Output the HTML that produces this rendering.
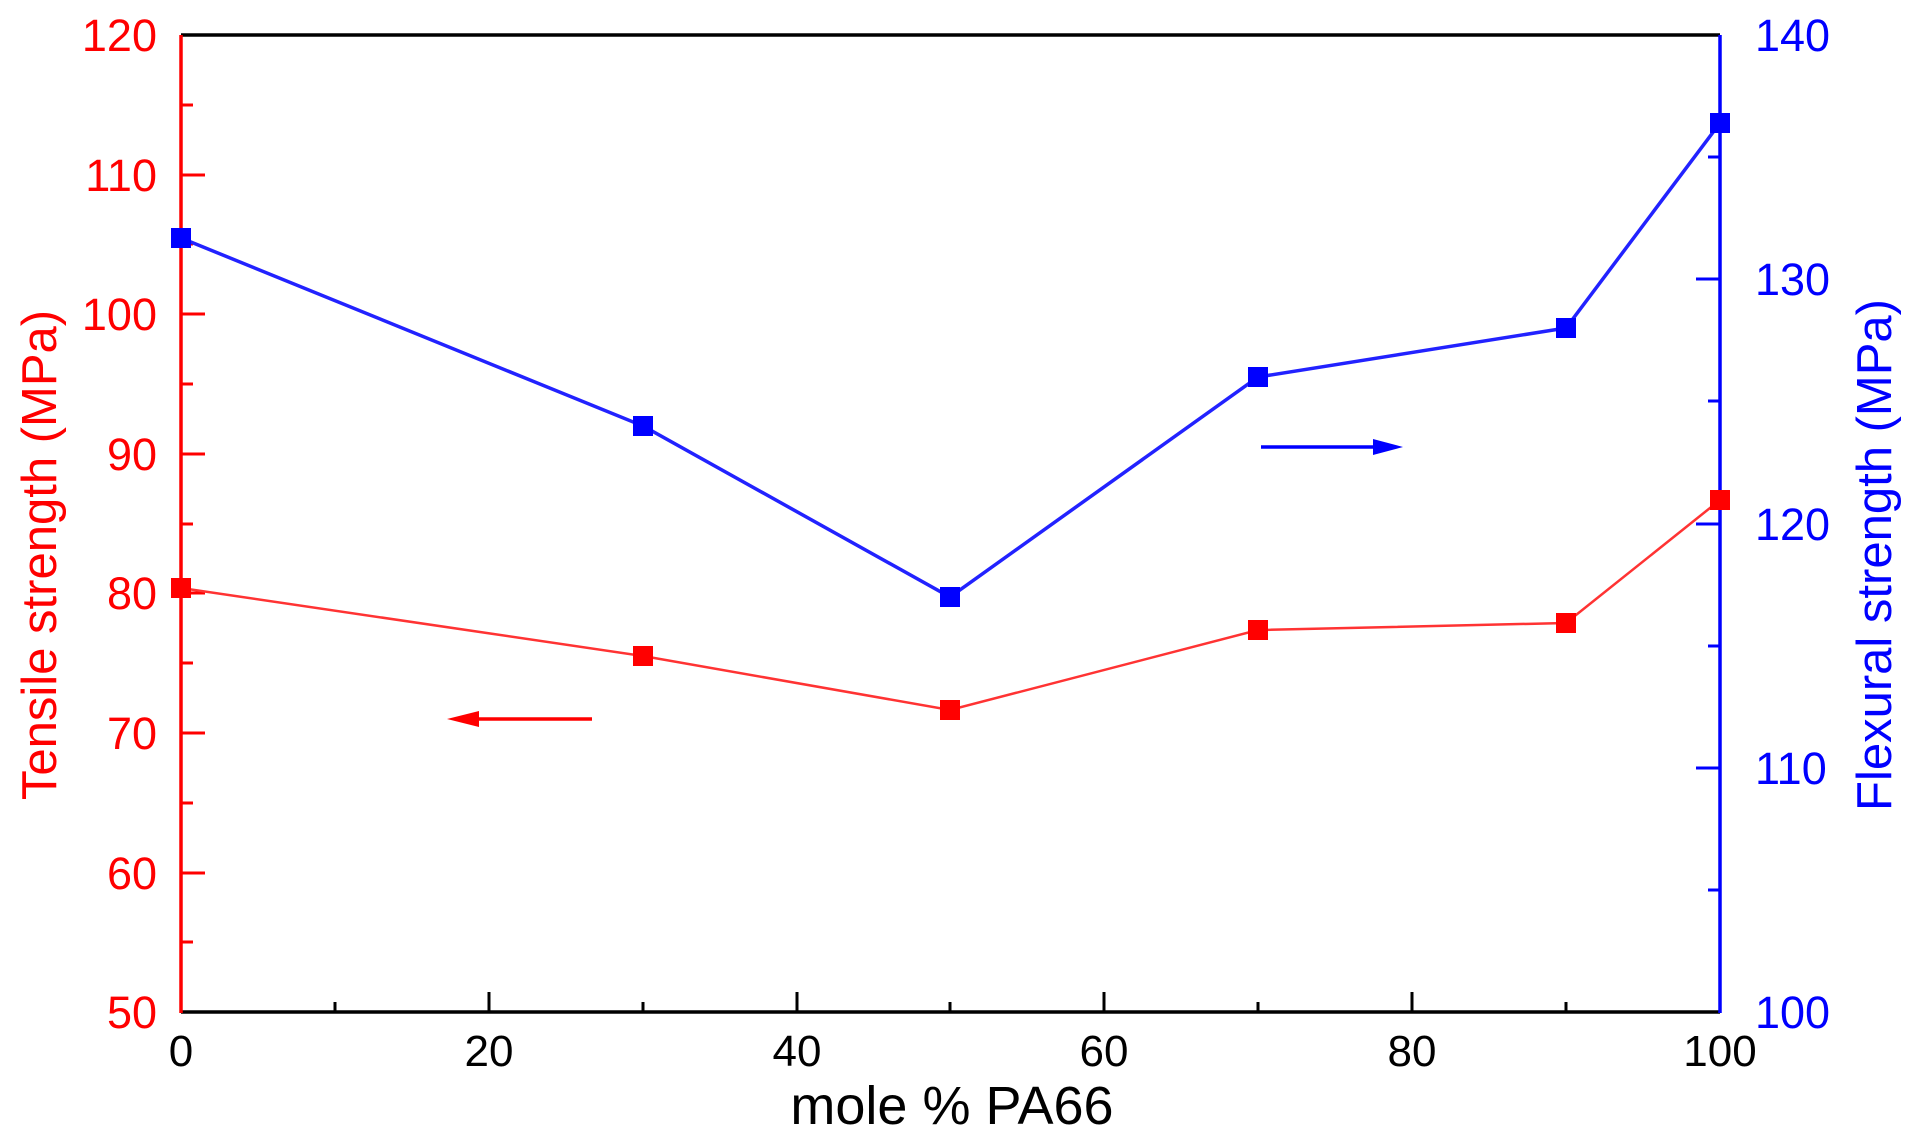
<!DOCTYPE html>
<html><head><style>html,body{margin:0;padding:0;background:#fff;}svg{display:block}</style></head>
<body>
<svg width="1914" height="1141" viewBox="0 0 1914 1141" xmlns="http://www.w3.org/2000/svg" font-family="Liberation Sans, Arial, sans-serif">
<!-- frame -->
<line x1="181" y1="35" x2="1720" y2="35" stroke="#000" stroke-width="3.5"/>
<line x1="181" y1="1012" x2="1720" y2="1012" stroke="#000" stroke-width="3.5"/>
<line x1="181" y1="35" x2="181" y2="1013" stroke="#f00" stroke-width="3.5"/>
<line x1="1720" y1="35" x2="1720" y2="1013" stroke="#00f" stroke-width="3.5"/>
<!-- x ticks -->
<g stroke="#000" stroke-width="3">
<line x1="335" y1="1012" x2="335" y2="1002"/><line x1="489" y1="1012" x2="489" y2="992"/>
<line x1="643" y1="1012" x2="643" y2="1002"/><line x1="797" y1="1012" x2="797" y2="992"/>
<line x1="950" y1="1012" x2="950" y2="1002"/><line x1="1104" y1="1012" x2="1104" y2="992"/>
<line x1="1258" y1="1012" x2="1258" y2="1002"/><line x1="1412" y1="1012" x2="1412" y2="992"/>
<line x1="1566" y1="1012" x2="1566" y2="1002"/>
</g>
<g font-size="44" fill="#000" text-anchor="middle">
<text x="181" y="1066">0</text><text x="489" y="1066">20</text><text x="797" y="1066">40</text>
<text x="1104" y="1066">60</text><text x="1412" y="1066">80</text><text x="1720" y="1066">100</text>
</g>
<text x="952" y="1124" font-size="54" text-anchor="middle" fill="#000">mole % PA66</text>
<!-- left ticks -->
<g stroke="#f00" stroke-width="3">
<line x1="181" y1="105" x2="193" y2="105"/><line x1="181" y1="175" x2="205" y2="175"/>
<line x1="181" y1="244" x2="193" y2="244"/><line x1="181" y1="314" x2="205" y2="314"/>
<line x1="181" y1="384" x2="193" y2="384"/><line x1="181" y1="454" x2="205" y2="454"/>
<line x1="181" y1="524" x2="193" y2="524"/><line x1="181" y1="593" x2="205" y2="593"/>
<line x1="181" y1="663" x2="193" y2="663"/><line x1="181" y1="733" x2="205" y2="733"/>
<line x1="181" y1="803" x2="193" y2="803"/><line x1="181" y1="873" x2="205" y2="873"/>
<line x1="181" y1="942" x2="193" y2="942"/>
</g>
<g font-size="45" fill="#f00" text-anchor="end">
<text x="157" y="51">120</text><text x="157" y="191">110</text><text x="157" y="330">100</text>
<text x="157" y="470">90</text><text x="157" y="609">80</text><text x="157" y="749">70</text>
<text x="157" y="889">60</text><text x="157" y="1028">50</text>
</g>
<text transform="translate(56,555) rotate(-90)" font-size="49" fill="#f00" text-anchor="middle">Tensile strength (MPa)</text>
<!-- right ticks -->
<g stroke="#00f" stroke-width="3">
<line x1="1720" y1="157" x2="1708" y2="157"/><line x1="1720" y1="279" x2="1696" y2="279"/>
<line x1="1720" y1="401" x2="1708" y2="401"/><line x1="1720" y1="524" x2="1696" y2="524"/>
<line x1="1720" y1="646" x2="1708" y2="646"/><line x1="1720" y1="768" x2="1696" y2="768"/>
<line x1="1720" y1="890" x2="1708" y2="890"/>
</g>
<g font-size="45" fill="#00f" text-anchor="start">
<text x="1755" y="51">140</text><text x="1755" y="295">130</text><text x="1755" y="540">120</text>
<text x="1755" y="784">110</text><text x="1755" y="1028">100</text>
</g>
<text transform="translate(1891,555) rotate(-90)" font-size="49" fill="#00f" text-anchor="middle">Flexural strength (MPa)</text>
<!-- series -->
<polyline fill="none" stroke="#f33" stroke-width="2.5" points="181,588 643,656 950,710 1258,630 1566,623 1720,500"/>
<g fill="#f00">
<rect x="171" y="578" width="20" height="20"/><rect x="633" y="646" width="20" height="20"/>
<rect x="940" y="700" width="20" height="20"/><rect x="1248" y="620" width="20" height="20"/>
<rect x="1556" y="613" width="20" height="20"/><rect x="1710" y="490" width="20" height="20"/>
</g>
<polyline fill="none" stroke="#22f" stroke-width="3.5" points="181,238 643,426 950,597 1258,377 1566,328 1720,123"/>
<g fill="#00f">
<rect x="171" y="228" width="20" height="20"/><rect x="633" y="416" width="20" height="20"/>
<rect x="940" y="587" width="20" height="20"/><rect x="1248" y="367" width="20" height="20"/>
<rect x="1556" y="318" width="20" height="20"/><rect x="1710" y="113" width="20" height="20"/>
</g>
<!-- arrows -->
<line x1="1261" y1="447" x2="1378" y2="447" stroke="#00f" stroke-width="3.5"/>
<polygon points="1373,439 1403,447 1373,455" fill="#00f"/>
<line x1="592" y1="719" x2="475" y2="719" stroke="#f00" stroke-width="3.5"/>
<polygon points="479,711 447,719 479,727" fill="#f00"/>
</svg>
</body></html>
